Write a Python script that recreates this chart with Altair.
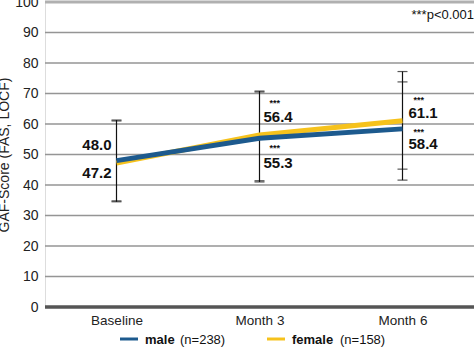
import altair as alt
import pandas as pd

visits = ["Baseline", "Month 3", "Month 6"]
male_mean = [48.0, 55.3, 58.4]
female_mean = [47.2, 56.4, 61.1]
male_lo = [34.8, 41.4, 41.6]
male_hi = [61.3, 70.5, 73.8]
female_lo = [34.5, 41.0, 45.2]
female_hi = [61.0, 70.8, 77.2]
y_ticks = [0, 10, 20, 30, 40, 50, 60, 70, 80, 90, 100]

BLUE = "#1d5a8e"
YELLOW = "#f6c21c"
FONT = "Liberation Sans"

rows = []
for i, v in enumerate(visits):
    rows.append({"visit": v, "group": "female", "mean": female_mean[i], "lo": female_lo[i], "hi": female_hi[i]})
    rows.append({"visit": v, "group": "male", "mean": male_mean[i], "lo": male_lo[i], "hi": male_hi[i]})
df = pd.DataFrame(rows)

err = pd.DataFrame({
    "visit": visits,
    "lo": [min(a, b) for a, b in zip(male_lo, female_lo)],
    "hi": [max(a, b) for a, b in zip(male_hi, female_hi)],
})
caps = pd.DataFrame(
    [{"visit": v, "val": x} for i, v in enumerate(visits)
     for x in (male_lo[i], male_hi[i], female_lo[i], female_hi[i])]
)

x_enc = alt.X("visit:N", sort=visits, scale=alt.Scale(type="point", padding=0.5),
              axis=alt.Axis(title=None, labelAngle=0, domain=False, ticks=False,
                            labelFont=FONT, labelFontSize=13.5, labelColor="#222",
                            labelPadding=6))
y_scale = alt.Scale(domain=[0, 100], nice=False)
y_axis = alt.Axis(values=y_ticks, tickCount=11, labelOverlap=False, title="GAF-Score (FAS, LOCF)",
                  grid=False, domain=False, ticks=False, labelFont=FONT, labelFontSize=14,
                  labelColor="#222", labelPadding=7, titleFont=FONT, titleFontSize=14,
                  titleFontWeight="normal", titleColor="#222", titlePadding=3)


def yq(field):
    return alt.Y(field, scale=y_scale, axis=y_axis)


base = alt.Chart(df)

grid = alt.Chart(pd.DataFrame({"t": y_ticks[1:-1]})).mark_rule(color="#959595", strokeWidth=1.4).encode(
    y=yq("t:Q"))
top = alt.Chart(pd.DataFrame({"t": [100]})).mark_rule(color="#b0b0b0", strokeWidth=3).encode(
    y=yq("t:Q"))
zero = alt.Chart(pd.DataFrame({"t": [0]})).mark_rule(color="#555555", strokeWidth=3.5).encode(
    y=yq("t:Q"))

err_rule = alt.Chart(err).mark_rule(color="#111", strokeWidth=1.2).encode(
    x=x_enc, y=yq("lo:Q"), y2="hi:Q")
cap_tick = alt.Chart(caps).mark_tick(color="#111", thickness=1.2, size=10, orient="horizontal").encode(
    x=x_enc, y=yq("val:Q"))

lines = base.mark_line(strokeWidth=5).encode(
    x=x_enc,
    y=yq("mean:Q"),
    color=alt.Color("group:N", scale=alt.Scale(domain=["female", "male"], range=[YELLOW, BLUE]), legend=None),
    detail="group:N",
)

# (visit index, text, value, dx, dy, align, size)
specs = [
    (0, f"{male_mean[0]:.1f}", male_mean[0], -5, -16, "right", 15),
    (0, f"{female_mean[0]:.1f}", female_mean[0], -5, 10, "right", 15),
    (1, f"{female_mean[1]:.1f}", female_mean[1], 4, -18, "left", 15),
    (1, "***", female_mean[1], 10, -32, "left", 9),
    (1, f"{male_mean[1]:.1f}", male_mean[1], 4, 25, "left", 15),
    (1, "***", male_mean[1], 10, 10, "left", 9),
    (2, f"{female_mean[2]:.1f}", female_mean[2], 6, -8, "left", 15),
    (2, "***", female_mean[2], 11, -21, "left", 9),
    (2, f"{male_mean[2]:.1f}", male_mean[2], 6, 15, "left", 15),
    (2, "***", male_mean[2], 11, 3, "left", 9),
]
layers_txt = []
for vi, txt, val, dx, dy, al, sz in specs:
    d = pd.DataFrame({"visit": [visits[vi]], "val": [val], "txt": [txt]})
    layers_txt.append(
        alt.Chart(d).mark_text(font=FONT, fontWeight="bold", fontSize=sz, color="#111",
                               align=al, baseline="middle", dx=dx, dy=dy).encode(
            x=x_enc, y=yq("val:Q"), text="txt:N")
    )

pnote = alt.Chart(pd.DataFrame({"t": ["***p<0.001"]})).mark_text(
    font=FONT, fontSize=13, color="#111", align="right", baseline="middle").encode(
    x=alt.value(429), y=alt.value(13), text="t:N")

# custom legend below plot
leg_blue = alt.Chart(pd.DataFrame({"a": [1]})).mark_rule(color=BLUE, strokeWidth=3).encode(
    x=alt.value(120 - 45), x2=alt.value(138 - 45), y=alt.value(337))
leg_yel = alt.Chart(pd.DataFrame({"a": [1]})).mark_rule(color=YELLOW, strokeWidth=3).encode(
    x=alt.value(267 - 45), x2=alt.value(285 - 45), y=alt.value(337))
leg_t1 = alt.Chart(pd.DataFrame({"t": ["male"]})).mark_text(
    font=FONT, fontSize=13, fontWeight="bold", color="#111", align="left", baseline="middle").encode(
    x=alt.value(145 - 45), y=alt.value(338), text="t:N")
leg_t2 = alt.Chart(pd.DataFrame({"t": ["(n=238)"]})).mark_text(
    font=FONT, fontSize=13, color="#111", align="left", baseline="middle").encode(
    x=alt.value(180 - 45), y=alt.value(338), text="t:N")
leg_t3 = alt.Chart(pd.DataFrame({"t": ["female"]})).mark_text(
    font=FONT, fontSize=13, fontWeight="bold", color="#111", align="left", baseline="middle").encode(
    x=alt.value(292 - 45), y=alt.value(338), text="t:N")
leg_t4 = alt.Chart(pd.DataFrame({"t": ["(n=158)"]})).mark_text(
    font=FONT, fontSize=13, color="#111", align="left", baseline="middle").encode(
    x=alt.value(340 - 45), y=alt.value(338), text="t:N")

chart = alt.layer(
    grid, top, zero, err_rule, cap_tick, lines, *layers_txt, pnote,
    leg_blue, leg_yel, leg_t1, leg_t2, leg_t3, leg_t4
).properties(
    width=429, height=305,
    autosize=alt.AutoSizeParams(type="none"),
    padding={"left": 45, "top": 2, "right": 0, "bottom": 40},
).configure_view(stroke=None).configure(background="white")

chart.save("out.html", embed_options={"renderer": "svg", "actions": False})
